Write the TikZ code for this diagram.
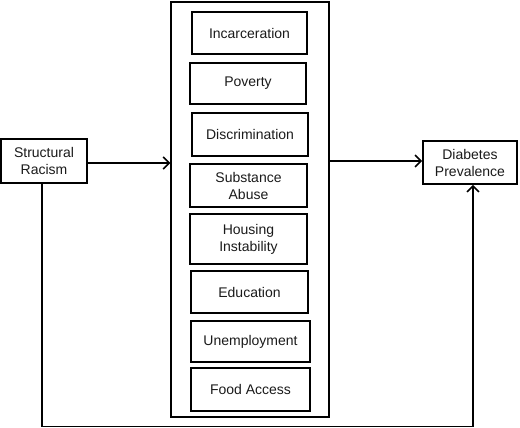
\documentclass[tikz,border=0pt]{standalone}
\usepackage{fontspec}
\setmainfont{Liberation Sans}
\usetikzlibrary{arrows.meta}
\definecolor{txt}{HTML}{1A1A1A}
\begin{document}
\begin{tikzpicture}[x=1pt,y=-1pt,
  box/.style={draw,line width=1.6pt,align=center,inner sep=0pt,text=txt,font=\fontsize{14}{17}\selectfont},
  conn/.style={line width=1.6pt,-{Straight Barb[length=6pt,width=12pt,line width=1.6pt]}}]
\useasboundingbox (0,0) rectangle (520,428);
\node[draw,line width=1.4pt,minimum width=158pt,minimum height=415pt,inner sep=0pt] (outer) at (250,209.5) {};
\node[box,minimum width=115pt,minimum height=42pt] (inc) at (249.5,33) {Incarceration};
\node[box,minimum width=116pt,minimum height=41pt] (pov) at (248,83.5) {Poverty};
\node[box,minimum width=116pt,minimum height=43pt] (dis) at (250,134.5) {Discrimination};
\node[box,minimum width=117pt,minimum height=43pt] (sub) at (248.5,185.5) {Substance\\Abuse};
\node[box,minimum width=117pt,minimum height=50pt] (hou) at (248.5,239) {Housing\\Instability};
\node[box,minimum width=117pt,minimum height=42pt] (edu) at (249.5,292) {Education};
\node[box,minimum width=119pt,minimum height=41pt] (une) at (250.5,341.5) {Unemployment};
\node[box,minimum width=119pt,minimum height=43pt] (foo) at (250.5,389.5) {Food Access};
\node[box,minimum width=86pt,minimum height=44pt] (sr) at (44,161) {Structural\\Racism};
\node[box,minimum width=94pt,minimum height=43pt] (dp) at (470,162.5) {Diabetes\\Prevalence};
\coordinate (c1) at (42,426.5);
\coordinate (c2) at (473,426.5);
\draw[conn] (sr.east |- 0,163) -- (outer.west |- 0,163);
\draw[conn] (outer.east |- 0,161) -- (dp.west |- 0,161);
\draw[conn] (sr.south -| c1) -- (c1) -- (c2) -- (dp.south -| c2);
\end{tikzpicture}
\end{document}
